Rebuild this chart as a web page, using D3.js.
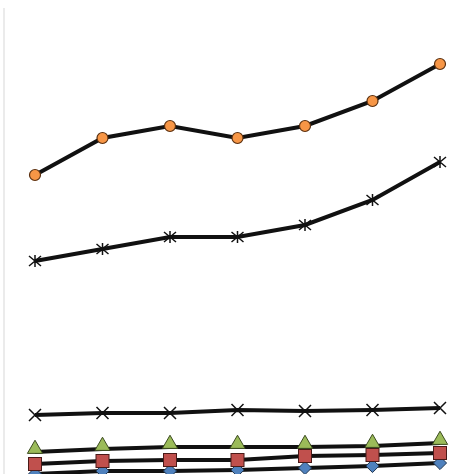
<!DOCTYPE html>
<html><head><meta charset="utf-8">
<script src="https://cdn.jsdelivr.net/npm/d3@7"></script>
<style>body{margin:0;background:#fff}</style></head>
<body><svg id="c" width="474" height="474"></svg>
<script>
// values (arbitrary units, higher = up)
const points = [1, 2, 3, 4, 5, 6, 7];
const circleVals = [299, 336, 348, 336, 348, 373, 410];
const starVals = [213, 225, 237, 237, 249, 274, 312];
const crossVals = [59, 61, 61, 64, 63, 64, 66];
const triVals = [22, 25, 27, 27, 27, 28, 31];
const squareVals = [10, 13, 14, 14, 18, 19, 21];
const diamondVals = [0, 3, 3, 4, 6, 8, 11];

const svg = d3.select('#c');
const x = d3.scaleLinear().domain([1, 7]).range([35, 440]);
const y = d3.scaleLinear().domain([0, 474]).range([474, 0]);

svg.append('line').attr('x1', 4).attr('x2', 4).attr('y1', 8).attr('y2', 474)
  .attr('stroke', '#e4e4e4').attr('stroke-width', 1.5);

const line = d3.line().x((d, i) => x(points[i])).y(d => y(d));

function series(vals, marker) {
  svg.append('path').datum(vals).attr('d', line)
    .attr('fill', 'none').attr('stroke', '#111').attr('stroke-width', 4);
  vals.forEach((v, i) => marker(x(points[i]), y(v)));
}

series(crossVals, (cx, cy) => {
  svg.append('path').attr('d', `M${cx-6},${cy-6}L${cx+6},${cy+6}M${cx-6},${cy+6}L${cx+6},${cy-6}`)
    .attr('stroke', '#111').attr('stroke-width', 1.5);
});
series(starVals, (cx, cy) => {
  svg.append('path').attr('d', `M${cx-6},${cy-5}L${cx+6},${cy+5}M${cx-6},${cy+5}L${cx+6},${cy-5}M${cx},${cy-6}L${cx},${cy+6}`)
    .attr('stroke', '#111').attr('stroke-width', 1.5);
});
series(diamondVals, (cx, cy) => {
  svg.append('path').attr('d', d3.symbol(d3.symbolDiamond2, 110)()).attr('transform', `translate(${cx},${cy})`)
    .attr('fill', '#4f81bd').attr('stroke', '#1f3550').attr('stroke-width', 1);
});
series(squareVals, (cx, cy) => {
  svg.append('rect').attr('x', cx - 6.5).attr('y', cy - 6.5).attr('width', 13).attr('height', 13)
    .attr('fill', '#c0504d').attr('stroke', '#4a1a18').attr('stroke-width', 1);
});
series(triVals, (cx, cy) => {
  svg.append('path').attr('d', d3.symbol(d3.symbolTriangle, 100)()).attr('transform', `translate(${cx},${cy-3})`)
    .attr('fill', '#9bbb59').attr('stroke', '#3a4a1e').attr('stroke-width', 1);
});
series(circleVals, (cx, cy) => {
  svg.append('circle').attr('cx', cx).attr('cy', cy).attr('r', 5.5)
    .attr('fill', '#f79646').attr('stroke', '#5a3010').attr('stroke-width', 1.2);
});
</script></body></html>
